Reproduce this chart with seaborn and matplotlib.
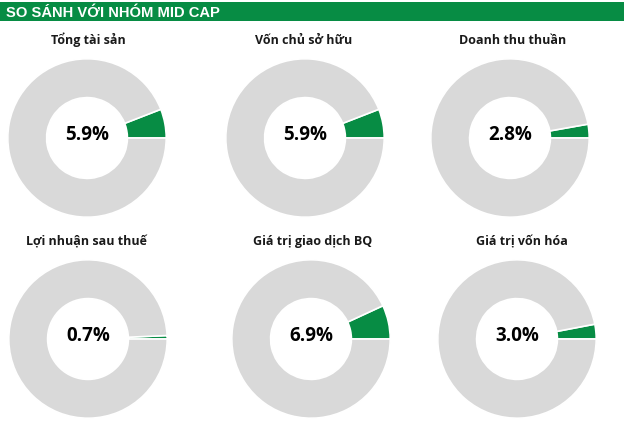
import matplotlib
matplotlib.use("Agg")
import matplotlib.pyplot as plt
import seaborn as sns

# data
titles = ["Tổng tài sản", "Vốn chủ sở hữu", "Doanh thu thuần",
          "Lợi nhuận sau thuế", "Giá trị giao dịch BQ", "Giá trị vốn hóa"]
shares = [5.9, 5.9, 2.8, 0.7, 6.9, 3.0]
header = "SO SÁNH VỚI NHÓM MID CAP"

GREEN = "#078C44"
GREY = "#D9D9D9"

W, H = 624, 435


def main():
    sns.set_theme(style="white")
    plt.rcParams['font.family'] = ['Open Sans', 'DejaVu Sans']

    fig = plt.figure(figsize=(W / 100, H / 100), dpi=100)
    fig.patch.set_facecolor("white")

    # header bar
    hdr = fig.add_axes([0, 1 - 22 / H, 1, 19 / H])
    hdr.set_facecolor(GREEN)
    hdr.set_xticks([])
    hdr.set_yticks([])
    for s in hdr.spines.values():
        s.set_visible(False)
    hdr.text(6 / W, 0.45, header, color="white", fontsize=10.6, fontweight="bold",
             family=['Liberation Sans Narrow', 'Liberation Sans', 'DejaVu Sans'],
             va="center", ha="left", transform=hdr.transAxes)

    # donut centres in pixels (layout only)
    centres = [(87, 139), (305, 139), (510, 139),
               (88, 340), (311, 340), (517, 340)]
    title_pos = [(88, 40), (304, 40), (513, 40),
                 (86, 242), (313, 242), (522, 242)]
    r = 80

    for i, (name, val) in enumerate(zip(titles, shares)):
        cx, cy = centres[i]
        ax = fig.add_axes([(cx - r) / W, (H - cy - r) / H, 2 * r / W, 2 * r / H])
        ax.pie([val, 100 - val], colors=[GREEN, GREY], startangle=0,
               counterclock=True, radius=1,
               wedgeprops=dict(width=0.49, edgecolor="white", linewidth=1.2))
        ax.set_xlim(-1.01, 1.01)
        ax.set_ylim(-1.01, 1.01)
        ax.set_aspect("equal")
        ax.axis("off")
        ax.text(0, 0.05, f"{val:.1f}%", ha="center", va="center",
                fontsize=13.5, fontweight="bold", color="black")

        tx, ty = title_pos[i]
        fig.text(tx / W, 1 - ty / H, name, ha="center", va="center",
                 fontsize=9, fontweight="bold", color="#1a1a1a")

    fig.savefig("out.png", dpi=100)


if __name__ == '__main__':
    main()
